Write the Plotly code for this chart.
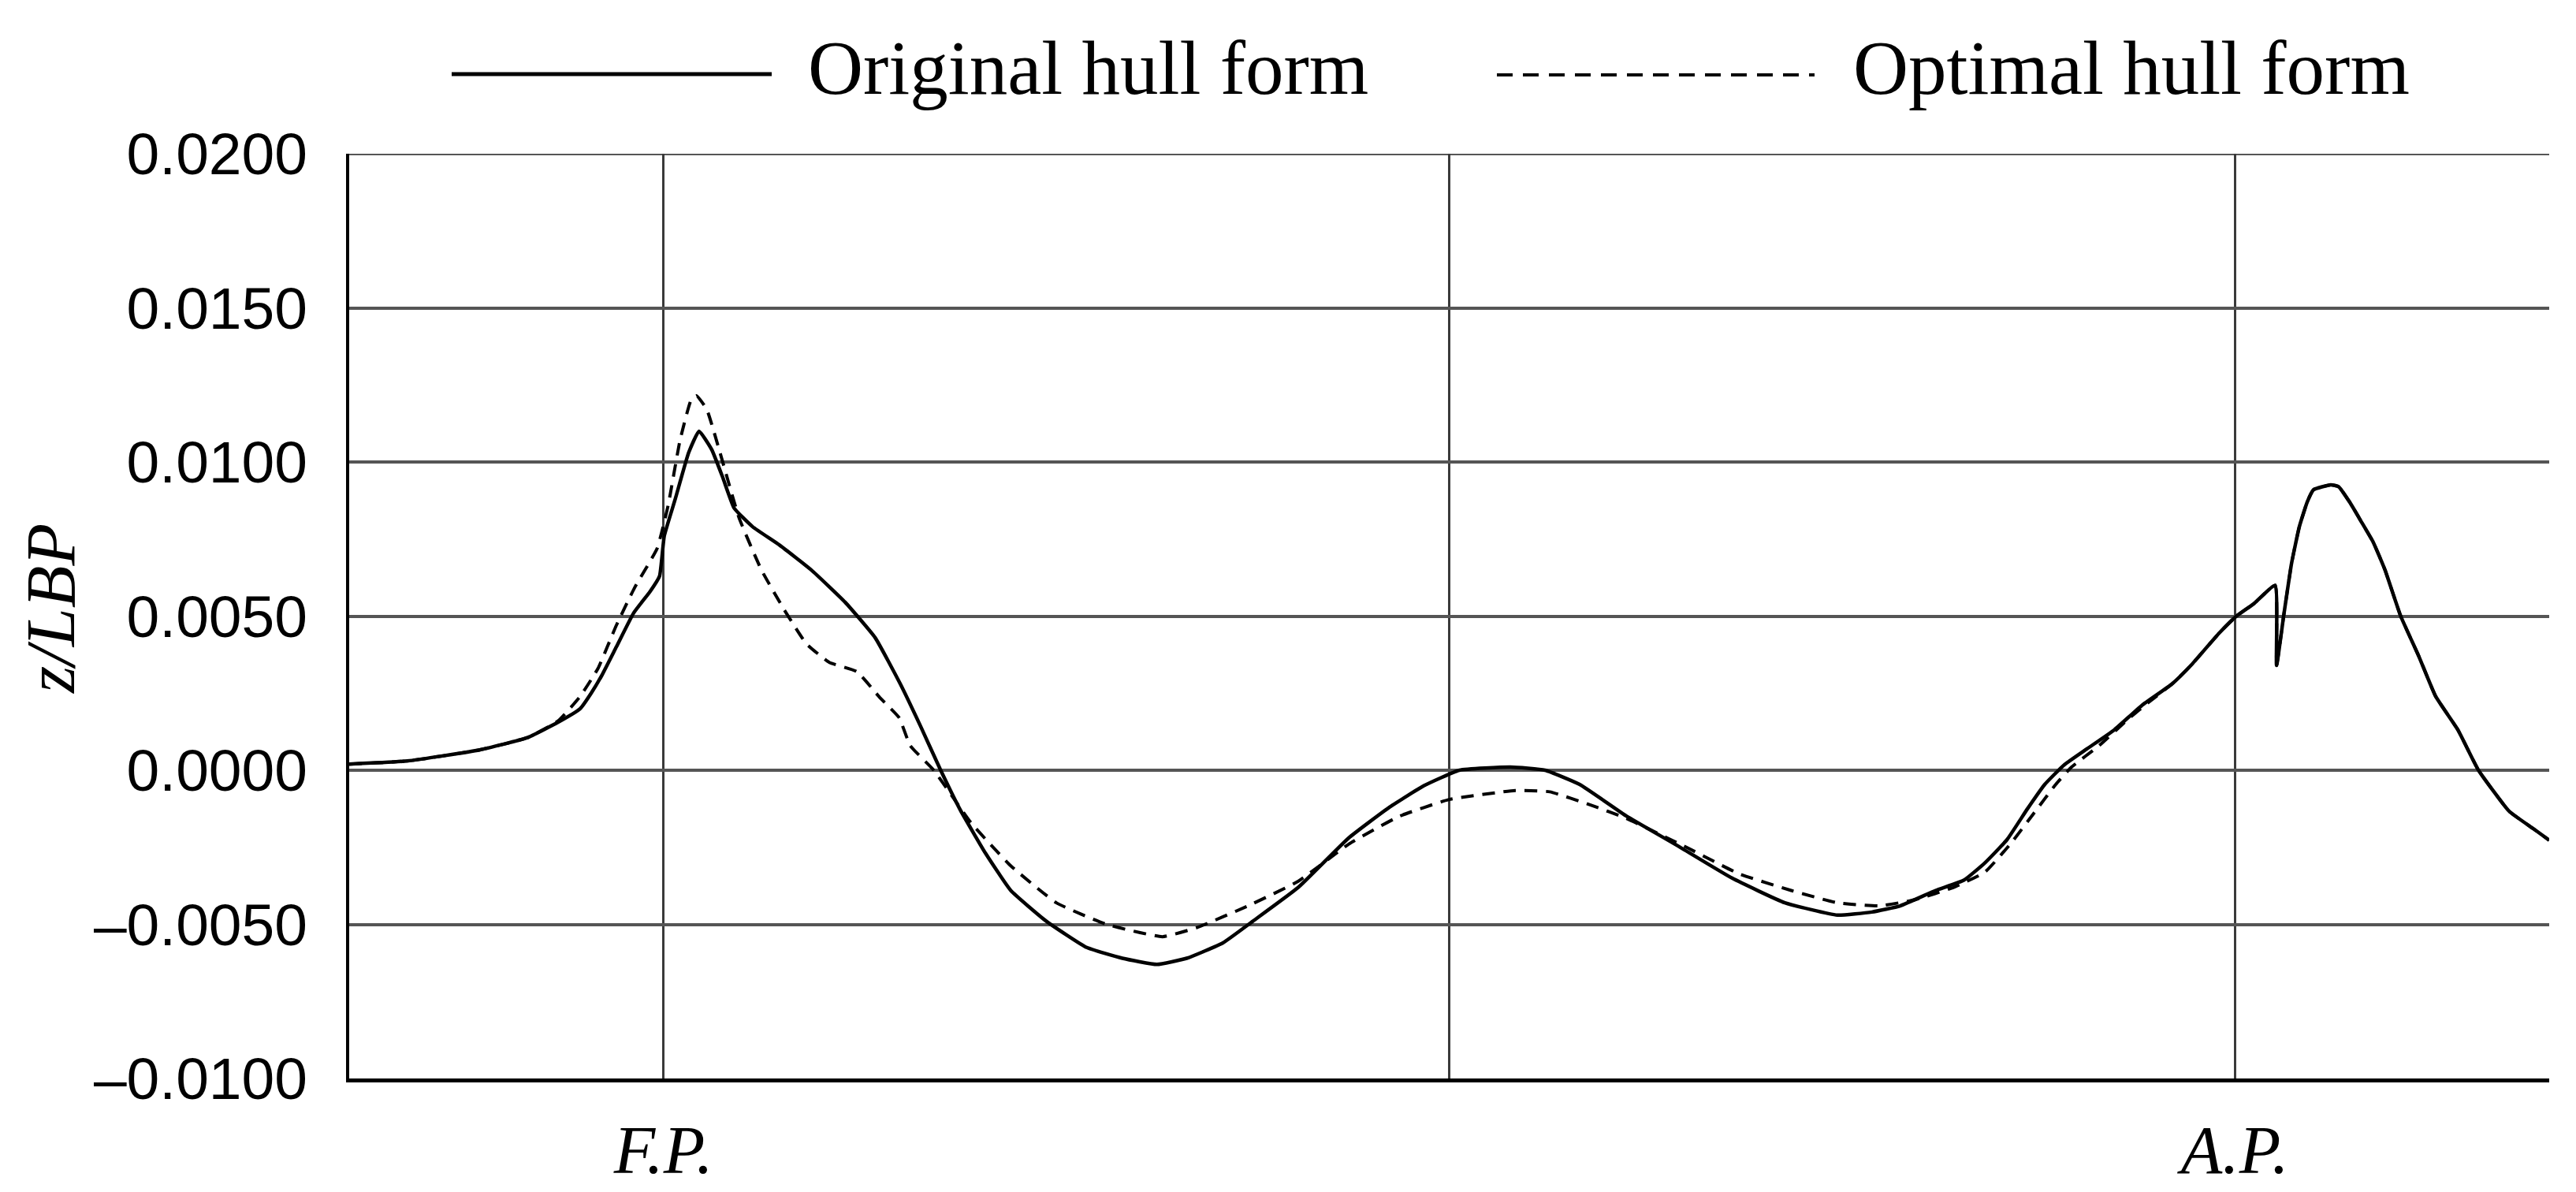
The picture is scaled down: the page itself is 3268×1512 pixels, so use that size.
import plotly.graph_objects as go

# ---- data (x: fraction of LBP, F.P. = 0, A.P. = 1; y: z/LBP) ----
orig_x = [-0.200, -0.163, -0.117, -0.087, -0.067, -0.053, -0.046, -0.039, -0.030, -0.019,
          -0.0085, -0.0025, 0.0005, 0.0075, 0.016, 0.0226, 0.0307, 0.0377, 0.045, 0.0567,
          0.074, 0.094, 0.1156, 0.1347, 0.1507, 0.1633, 0.1764, 0.189, 0.205, 0.221,
          0.2437, 0.2693, 0.292, 0.314, 0.333, 0.356, 0.375, 0.404, 0.436, 0.462,
          0.484, 0.5065, 0.539, 0.561, 0.583, 0.6126, 0.6437, 0.680, 0.7136, 0.747,
          0.769, 0.787, 0.8096, 0.8277, 0.841, 0.855, 0.868, 0.879, 0.8915, 0.906,
          0.923, 0.9407, 0.960, 0.972, 0.990, 1.001, 1.012, 1.0256, 1.0265, 1.031,
          1.036, 1.041, 1.046, 1.050, 1.061, 1.066, 1.073, 1.080, 1.088, 1.0955,
          1.1055, 1.117, 1.1277, 1.142, 1.155, 1.1745, 1.190, 1.200]
orig_y = [0.0002, 0.0003, 0.00066, 0.00105, 0.00156, 0.0020, 0.0025, 0.0031, 0.0040, 0.0051,
          0.0058, 0.0063, 0.0076, 0.0088, 0.0103, 0.0110, 0.0104, 0.0095, 0.0085, 0.0079,
          0.0073, 0.0065, 0.00545, 0.0043, 0.0028, 0.00146, 0.0000, -0.0013, -0.0027, -0.0039,
          -0.0049, -0.00575, -0.0061, -0.0063, -0.0061, -0.0056, -0.0049, -0.0038, -0.0022, -0.0012,
          -0.0005, 0.0000, 0.0001, 0.0000, -0.00046, -0.00148, -0.0024, -0.0035, -0.0043, -0.0047,
          -0.0046, -0.0044, -0.0039, -0.00356, -0.0030, -0.00225, -0.00125, -0.00046, 0.00018, 0.0007,
          0.0013, 0.0021, 0.0028, 0.0034, 0.00445, 0.0050, 0.0054, 0.0060, 0.0034, 0.0050,
          0.0067, 0.0079, 0.0087, 0.0091, 0.00926, 0.0092, 0.0087, 0.0081, 0.0074, 0.0065,
          0.0050, 0.0037, 0.0024, 0.0013, 0.0000, -0.00133, -0.0019, -0.00227]

opt_x = [-0.200, -0.163, -0.117, -0.087, -0.067, -0.053, -0.0417, -0.030, -0.0186, -0.004,
         0.003, 0.0105, 0.0175, 0.021, 0.0276, 0.036, 0.048, 0.0623, 0.0769, 0.091,
         0.1055, 0.123, 0.1378, 0.150, 0.157, 0.172, 0.1956, 0.221, 0.250, 0.282,
         0.3175, 0.3397, 0.372, 0.404, 0.436, 0.468, 0.500, 0.542, 0.564, 0.590,
         0.6126, 0.651, 0.684, 0.7176, 0.747, 0.774, 0.7965, 0.821, 0.841, 0.857,
         0.872, 0.886, 0.896, 0.9136, 0.933, 0.945, 0.960, 0.972, 0.990, 1.001,
         1.012, 1.0256, 1.0265, 1.031, 1.036, 1.041, 1.046, 1.050, 1.061, 1.066,
         1.073, 1.080, 1.088, 1.0955, 1.1055, 1.117, 1.1277, 1.142, 1.155, 1.1745,
         1.190, 1.200]
opt_y = [0.0002, 0.0003, 0.00066, 0.00105, 0.0016, 0.0024, 0.0033, 0.0047, 0.0059, 0.0072,
         0.0086, 0.0107, 0.0120, 0.01215, 0.0117, 0.0103, 0.0082, 0.0065, 0.0052, 0.0041,
         0.0035, 0.0032, 0.00235, 0.0017, 0.0008, 0.0000, -0.0017, -0.0031, -0.0043, -0.0050,
         -0.0054, -0.0051, -0.0044, -0.0036, -0.0024, -0.0015, -0.00095, -0.00066, -0.0007, -0.00113,
         -0.00156, -0.0025, -0.00335, -0.0039, -0.0043, -0.0044, -0.0042, -0.0038, -0.0033, -0.0024,
         -0.0014, -0.00046, 0.0001, 0.0008, 0.0017, 0.0022, 0.0028, 0.0034, 0.00445, 0.0050,
         0.0054, 0.0060, 0.0034, 0.0050, 0.0067, 0.0079, 0.0087, 0.0091, 0.00926, 0.0092,
         0.0087, 0.0081, 0.0074, 0.0065, 0.0050, 0.0037, 0.0024, 0.0013, 0.0000, -0.00133,
         -0.0019, -0.00227]

x_tickvals = [0.0, 0.5, 1.0]
x_ticktext = ["F.P.", "", "A.P."]
y_tickvals = [-0.0100, -0.0050, 0.0000, 0.0050, 0.0100, 0.0150, 0.0200]
y_ticktext = ["\u20130.0100", "\u20130.0050", "0.0000", "0.0050", "0.0100", "0.0150", "0.0200"]
series_names = ["Original hull form", "Optimal hull form"]

W, H = 3268, 1512
ML, MR, MT, MB = 435, 42, 187, 152
PW, PH = W - ML - MR, H - MT - MB


def px_x(p):
    return (p - ML) / PW


def px_y(p):
    return (H - MB - p) / PH


fig = go.Figure()
fig.add_trace(go.Scatter(x=orig_x, y=orig_y, mode="lines", name=series_names[0],
                         line=dict(color="black", width=4.5, shape="spline", smoothing=0.4),
                         showlegend=False))
fig.add_trace(go.Scatter(x=opt_x, y=opt_y, mode="lines", name=series_names[1],
                         line=dict(color="black", width=4, dash="16px,11px", shape="spline",
                                   smoothing=0.4),
                         showlegend=False))

# top grid line at the upper range edge
fig.add_shape(type="line", xref="paper", yref="y", x0=0, x1=1, y0=y_tickvals[-1],
              y1=y_tickvals[-1], line=dict(color="#555555", width=4), layer="below")

# legend drawn manually
fig.add_shape(type="line", xref="paper", yref="paper", x0=px_x(565), x1=px_x(971),
              y0=px_y(86), y1=px_y(86), line=dict(color="black", width=5))
fig.add_shape(type="line", xref="paper", yref="paper", x0=px_x(1891), x1=px_x(2294),
              y0=px_y(87), y1=px_y(87), line=dict(color="black", width=4, dash="20px,13px"))
legend_font = dict(family="Liberation Serif", size=97, color="black")
fig.add_annotation(xref="paper", yref="paper", x=px_x(1015), y=px_y(79), text=series_names[0],
                   showarrow=False, xanchor="left", yanchor="middle", font=legend_font)
fig.add_annotation(xref="paper", yref="paper", x=px_x(2341), y=px_y(79), text=series_names[1],
                   showarrow=False, xanchor="left", yanchor="middle", font=legend_font)

# y-axis title
fig.add_annotation(xref="paper", yref="paper", x=px_x(56), y=px_y(764),
                   text="z/LBP", textangle=-90, showarrow=False,
                   xanchor="center", yanchor="middle",
                   font=dict(family="Liberation Serif", size=88, color="black", style="italic"))

fig.update_layout(
    width=W, height=H,
    margin=dict(l=ML, r=MR, t=MT, b=MB, autoexpand=False),
    paper_bgcolor="white", plot_bgcolor="white",
)
fig.update_xaxes(
    range=[-0.2, 1.2], tickvals=x_tickvals, ticktext=x_ticktext,
    showgrid=True, gridcolor="#3a3a3a", gridwidth=2.5, zeroline=False,
    showline=True, linecolor="black", linewidth=5, ticks="", ticklabelstandoff=12,
    tickfont=dict(family="Liberation Serif", size=86, color="black", style="italic"),
)
fig.update_yaxes(
    range=[-0.0100, 0.0200], tickvals=y_tickvals, ticktext=y_ticktext,
    showgrid=True, gridcolor="#555555", gridwidth=4, zeroline=False,
    showline=True, linecolor="black", linewidth=4, ticks="", ticklabelstandoff=34,
    tickfont=dict(family="Liberation Sans", size=75, color="black"),
)

fig.write_html("out.html")
